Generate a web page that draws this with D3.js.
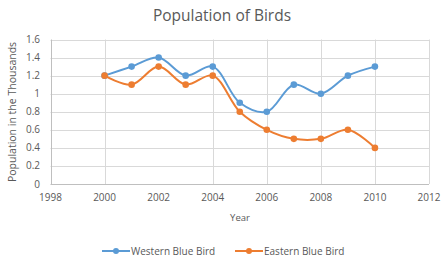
<!DOCTYPE html>
<html><head><meta charset="utf-8">
<script src="https://cdn.jsdelivr.net/npm/d3@7"></script>
<style>body{margin:0;background:#fff}svg{display:block}text{font-family:"Open Sans","Liberation Sans",sans-serif;fill:#595959}</style>
</head><body><svg id="c" width="445" height="261"></svg>
<script>
const years = [2000,2001,2002,2003,2004,2005,2006,2007,2008,2009,2010];
const western = [1.2,1.3,1.4,1.2,1.3,0.9,0.8,1.1,1.0,1.2,1.3];
const eastern = [1.2,1.1,1.3,1.1,1.2,0.8,0.6,0.5,0.5,0.6,0.4];
const xTicks = [1998,2000,2002,2004,2006,2008,2010,2012];
const xGrid = [2000,2004,2006,2008,2010,2012];
const yTicks = [0,0.2,0.4,0.6,0.8,1,1.2,1.4,1.6];
const seriesNames = ["Western Blue Bird","Eastern Blue Bird"];
const colors = ["#5B9BD5","#ED7D31"];

const svg = d3.select("#c");
const x = d3.scaleLinear().domain([1998,2012]).range([50.5,429]);
const y = d3.scaleLinear().domain([0,1.6]).range([184,39.5]);

svg.append("text").attr("x",222).attr("y",21).attr("text-anchor","middle").style("font-size","15.5px").text("Population of Birds");

const g = svg.append("g");
g.selectAll(".hg").data(yTicks.slice(1)).join("line").attr("x1",x(1998)).attr("x2",x(2012))
 .attr("y1",d=>Math.round(y(d))+0.5).attr("y2",d=>Math.round(y(d))+0.5).attr("stroke","#d9d9d9").attr("stroke-width",1);
g.selectAll(".vg").data(xGrid).join("line").attr("y1",y(0)).attr("y2",y(1.6))
 .attr("x1",d=>Math.round(x(d))+0.5).attr("x2",d=>Math.round(x(d))+0.5).attr("stroke","#d9d9d9");
g.append("line").attr("x1",Math.round(x(1998))+0.5).attr("x2",Math.round(x(1998))+0.5).attr("y1",y(0)).attr("y2",y(1.6)).attr("stroke","#bfbfbf");
g.append("line").attr("x1",x(1998)).attr("x2",x(2012)).attr("y1",Math.round(y(0))+0.5).attr("y2",Math.round(y(0))+0.5).attr("stroke","#bfbfbf");

svg.selectAll(".yl").data(yTicks).join("text").attr("x",40).attr("y",d=>y(d)+3.5).attr("text-anchor","end")
 .style("font-size","10px").text(d=>d3.format("~g")(d));
svg.selectAll(".xl").data(xTicks).join("text").attr("x",d=>x(d)).attr("y",201).attr("text-anchor","middle")
 .style("font-size","10px").text(d=>d);
svg.append("text").attr("x",240).attr("y",221).attr("text-anchor","middle").style("font-size","9.5px").text("Year");
svg.append("text").attr("transform","translate(16,112) rotate(-90)").attr("text-anchor","middle").style("font-size","10.5px").text("Population in the Thousands");

const line = d3.line().x(d=>x(d[0])).y(d=>y(d[1])).curve(d3.curveCatmullRom.alpha(0.5));
[western,eastern].forEach((vals,i)=>{
  const pts = years.map((yr,j)=>[yr,vals[j]]);
  svg.append("path").attr("d",line(pts)).attr("fill","none").attr("stroke",colors[i]).attr("stroke-width",2);
  svg.selectAll(".m"+i).data(pts).join("circle").attr("cx",d=>x(d[0])).attr("cy",d=>y(d[1])).attr("r",3.3).attr("fill",colors[i]);
});

const leg = [{x0:102,tx:131},{x0:235,tx:264}];
leg.forEach((l,i)=>{
  svg.append("line").attr("x1",l.x0).attr("x2",l.x0+28).attr("y1",251).attr("y2",251).attr("stroke",colors[i]).attr("stroke-width",2);
  svg.append("circle").attr("cx",l.x0+14).attr("cy",251).attr("r",3).attr("fill",colors[i]);
  svg.append("text").attr("x",l.tx).attr("y",254.5).style("font-size","10px").text(seriesNames[i]);
});
</script></body></html>
